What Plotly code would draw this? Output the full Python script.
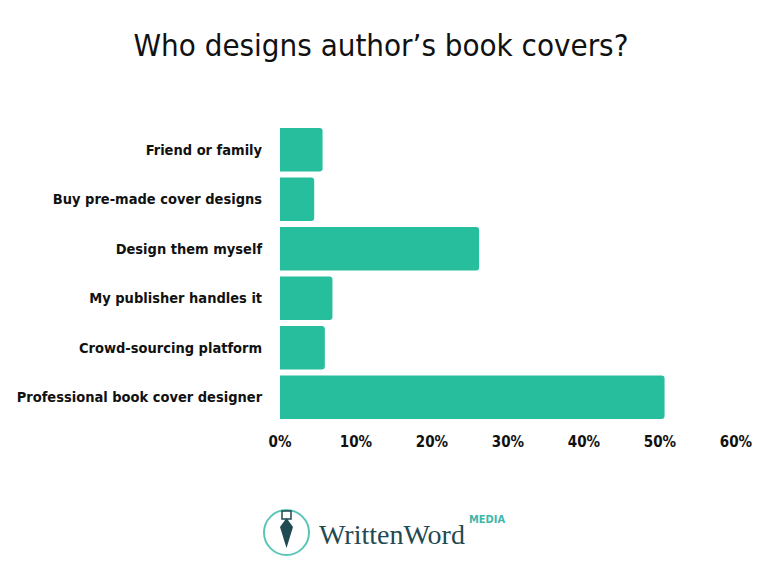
import plotly.graph_objects as go

categories = ["Friend or family", "Buy pre-made cover designs", "Design them myself",
              "My publisher handles it", "Crowd-sourcing platform", "Professional book cover designer"]
values = [5.6, 4.5, 26.2, 6.9, 5.9, 50.6]
tick_vals = [0, 10, 20, 30, 40, 50, 60]
tick_text = ["0%", "10%", "20%", "30%", "40%", "50%", "60%"]

COND = "DejaVu Sans Condensed, sans-serif"

OFF = 8  # page body margin offset
L, R, T, B = 280 - OFF, 40, 125 - OFF, 576 - (422 - OFF)
PW, PH = 768 - L - R, 576 - T - B


def px(x):
    return (x - OFF - L) / PW


def py(y):
    return (576 - B - (y - OFF)) / PH


fig = go.Figure(go.Bar(
    x=values, y=categories, orientation="h",
    marker=dict(color="#27be9e", line=dict(width=0), cornerradius=3),
    hoverinfo="skip",
))

fig.update_layout(
    width=768, height=576,
    margin=dict(l=L, r=R, t=T, b=B, autoexpand=False),
    paper_bgcolor="white", plot_bgcolor="white",
    bargap=0.12,
    showlegend=False,
    title=dict(text="Who designs author’s book covers?", x=(381 - OFF) / 768, xref="container",
               xanchor="center", y=1 - (45 - OFF) / 576, yref="container", yanchor="middle",
               font=dict(family=COND, size=31, color="#111111")),
    xaxis=dict(range=[0, 60], tickvals=tick_vals, ticktext=tick_text, showgrid=False,
               zeroline=False, showline=False, ticks="outside", ticklen=6, tickcolor="white",
               automargin=False,
               tickfont=dict(family=COND, size=15, color="#111111", weight="bold")),
    yaxis=dict(autorange="reversed", showgrid=False, zeroline=False, showline=False,
               ticks="outside", ticklen=14, tickcolor="white", automargin=False,
               tickfont=dict(family=COND, size=14.5, color="#111111", weight="bold")),
)

# Logo (approximation)
fig.add_shape(type="circle", xref="paper", yref="paper",
              x0=px(264), x1=px(309), y0=py(555), y1=py(510),
              line=dict(color="#5bc6b8", width=2))
fig.add_shape(type="path", xref="paper", yref="paper",
              path="M {0} {1} L {2} {3} L {4} {1} L {2} {5} Z".format(
                  px(280), py(527), px(286.5), py(518), px(293), py(548)),
              fillcolor="#1f4a52", line=dict(width=0))
fig.add_shape(type="rect", xref="paper", yref="paper",
              x0=px(282), x1=px(291), y0=py(519), y1=py(511),
              line=dict(color="#1f4a52", width=1.5))
fig.add_annotation(text="WrittenWord", xref="paper", yref="paper",
                   x=px(317), y=py(534), xanchor="left", yanchor="middle",
                   showarrow=False, font=dict(family="Liberation Serif, serif", size=28, color="#1f4a52"))
fig.add_annotation(text="MEDIA", xref="paper", yref="paper",
                   x=px(467), y=py(519), xanchor="left", yanchor="middle",
                   showarrow=False, font=dict(family=COND, size=11, color="#3fb6aa", weight="bold"))

fig.write_html("out.html")
